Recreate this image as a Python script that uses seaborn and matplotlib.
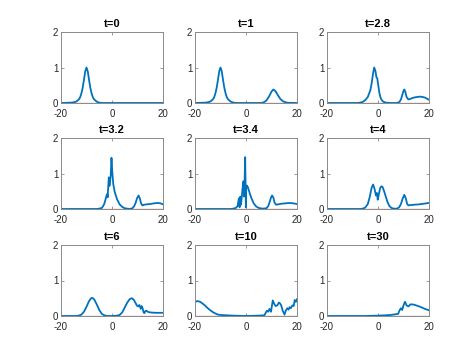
import matplotlib
matplotlib.use("Agg")
import matplotlib.pyplot as plt
import seaborn as sns
import numpy as np

# ---- data ----
titles = ["t=0", "t=1", "t=2.8", "t=3.2", "t=3.4", "t=4", "t=6", "t=10", "t=30"]

x_t0 = [-20, -16, -15, -14, -13, -12.5, -12, -11.5, -11, -10.5, -10, -9.5, -9, -8.5, -8, -7.5, -7, -6, -5, -4, 0, 20]
y_t0 = [0, 0.01, 0.02, 0.04, 0.10, 0.16, 0.27, 0.43, 0.65, 0.89, 1.0, 0.89, 0.65, 0.43, 0.27, 0.16, 0.10, 0.04, 0.01, 0, 0, 0]

x_t1 = [-20, -16, -15, -14, -13, -12.5, -12, -11.5, -11, -10.5, -10, -9.5, -9, -8.5, -8, -7.5, -7, -6, -5, -4, 0,
        6, 7, 8, 9, 10, 10.7, 11.5, 12.5, 13.5, 14.5, 15.5, 16.5, 20]
y_t1 = [0, 0.01, 0.02, 0.04, 0.10, 0.16, 0.27, 0.43, 0.65, 0.89, 1.0, 0.89, 0.65, 0.43, 0.27, 0.16, 0.10, 0.04, 0.01, 0, 0,
        0, 0.02, 0.07, 0.18, 0.32, 0.38, 0.34, 0.22, 0.11, 0.05, 0.02, 0.005, 0]

x_t28 = [-20, -8, -7, -6, -5, -4, -3, -2.5, -2, -1.5, -1.0, -0.6, -0.3, 0, 0.5, 1, 1.5, 2, 3, 5, 7, 8, 8.5, 9, 9.5,
         10, 10.3, 10.7, 11.2, 11.9, 12.5, 13.5, 14.5, 15.5, 16.5, 17.5, 18.5, 19.5, 20]
y_t28 = [0, 0, 0.01, 0.03, 0.08, 0.17, 0.36, 0.55, 0.80, 1.0, 0.9, 0.72, 0.70, 0.55, 0.30, 0.15, 0.08, 0.04, 0.01, 0, 0,
         0.01, 0.04, 0.10, 0.22, 0.34, 0.38, 0.32, 0.17, 0.10, 0.11, 0.14, 0.16, 0.17, 0.18, 0.17, 0.15, 0.11, 0.09]

x_t32 = [-20, -6, -5, -4, -3.5, -3, -2.5, -2.2, -1.9, -1.7, -1.5, -1.25, -1.0, -0.8, -0.5, -0.2, 0.1, 0.5, 1, 1.5, 2,
         3, 4, 5, 6, 7, 8, 8.7, 9.3, 9.8, 10.4, 10.9, 11.4, 11.9, 12.5, 13.5, 15, 16.5, 17.9, 19, 20]
y_t32 = [0, 0, 0.01, 0.03, 0.08, 0.15, 0.28, 0.36, 0.42, 0.33, 0.6, 0.89, 0.65, 0.75, 0.95, 1.44, 1.05, 0.7, 0.5, 0.38,
         0.27, 0.13, 0.06, 0.02, 0.01, 0, 0.02, 0.08, 0.18, 0.3, 0.38, 0.3, 0.16, 0.1, 0.12, 0.13, 0.14, 0.16, 0.17,
         0.16, 0.13]

x_t34 = [-20, -6, -5, -4, -3.3, -2.8, -2.5, -2.2, -2.0, -1.7, -1.4, -1.0, -0.8, -0.6, -0.33, -0.15, -0.05, 0.1, 0.4,
         0.8, 1.3, 2, 3, 4, 5, 6.5, 8, 8.7, 9.3, 9.8, 10.2, 10.7, 11.2, 11.8, 12.5, 14, 15.5, 17, 18.5, 20]
y_t34 = [0, 0, 0.01, 0.03, 0.08, 0.3, 0.05, 0.35, 0.12, 0.3, 0.55, 0.78, 0.35, 0.6, 1.46, 0.6, 0.05, 0.62, 0.66, 0.6,
         0.48, 0.33, 0.16, 0.07, 0.03, 0.01, 0.02, 0.08, 0.2, 0.32, 0.38, 0.33, 0.18, 0.12, 0.13, 0.15, 0.16, 0.17,
         0.16, 0.14]

x_t4 = [-20, -7, -6, -5, -4, -3.2, -2.5, -1.9, -1.3, -0.8, -0.4, -0.1, 0.3, 0.8, 1.3, 1.8, 2.4, 3, 3.7, 4.5, 5.3, 6.2,
        7.5, 8.3, 9, 9.6, 10.3, 10.9, 11.4, 11.9, 12.5, 14, 16, 18, 20]
y_t4 = [0, 0, 0.01, 0.04, 0.14, 0.35, 0.6, 0.69, 0.55, 0.38, 0.45, 0.26, 0.4, 0.58, 0.64, 0.62, 0.5, 0.36, 0.2, 0.08,
        0.03, 0.01, 0.01, 0.05, 0.14, 0.28, 0.4, 0.3, 0.15, 0.1, 0.11, 0.12, 0.13, 0.15, 0.17]

x_t6 = [-20, -14, -13, -12, -11, -10, -9, -8.2, -7.7, -7, -6, -5, -4, -3, -2, 0, 2, 3, 4, 5, 6, 7, 7.8, 8.5, 9.2,
        9.8, 10.3, 10.7, 11.0, 11.3, 11.6, 12.0, 12.4, 12.7, 13.1, 13.5, 14, 15, 17, 20]
y_t6 = [0, 0, 0.01, 0.04, 0.12, 0.26, 0.42, 0.5, 0.51, 0.47, 0.33, 0.17, 0.06, 0.02, 0, 0, 0.01, 0.03, 0.1, 0.24,
        0.38, 0.48, 0.5, 0.46, 0.37, 0.29, 0.27, 0.31, 0.26, 0.2, 0.28, 0.22, 0.1, 0.08, 0.14, 0.15, 0.12, 0.1, 0.09, 0.09]

x_t10 = [-20, -19, -18, -17, -16, -15, -14, -13, -12, -11, -10, -8, -5, 0, 5, 7.2, 7.8, 8.2, 8.7, 9.2, 9.8, 10.5,
         11.0, 11.6, 12.3, 12.9, 13.4, 13.8, 14.4, 15.1, 15.6, 16.2, 16.7, 17.1, 17.6, 18.2, 18.7, 19.1, 19.6, 20]
y_t10 = [0.4, 0.42, 0.4, 0.35, 0.29, 0.22, 0.16, 0.11, 0.07, 0.04, 0.03, 0.02, 0.01, 0, 0.01, 0.02, 0.1, 0.15, 0.12,
         0.2, 0.12, 0.44, 0.35, 0.28, 0.3, 0.38, 0.35, 0.3, 0.15, 0.04, 0.15, 0.22, 0.18, 0.25, 0.22, 0.3, 0.28, 0.45,
         0.4, 0.48]

x_t30 = [-20, -10, -5, 0, 3, 5, 7, 7.9, 8.4, 9.0, 9.5, 10.0, 10.6, 11.2, 11.9, 12.8, 14.1, 15.3, 16.5, 17.5, 18.4,
         19.2, 20]
y_t30 = [0, 0, 0, 0.01, 0.02, 0.03, 0.05, 0.06, 0.15, 0.22, 0.17, 0.3, 0.4, 0.3, 0.27, 0.33, 0.32, 0.29, 0.26, 0.23,
         0.2, 0.18, 0.16]

x_base = [-20, 20]
y_base = [0, 0]

x_ticks = [-20, 0, 20]
y_ticks = [0, 1, 2]

series = [(x_t0, y_t0), (x_t1, y_t1), (x_t28, y_t28), (x_t32, y_t32), (x_t34, y_t34),
          (x_t4, y_t4), (x_t6, y_t6), (x_t10, y_t10), (x_t30, y_t30)]

# ---- styling ----
sns.set_style("white")
plt.rcParams['font.family'] = ['Liberation Sans', 'DejaVu Sans']

W, H = 474, 355
fig = plt.figure(figsize=(W / 100, H / 100), dpi=100)

col_left = [61, 195, 327]
row_top = [32, 138, 245]
aw, ah = 102, 71

blue = "#0072BD"
orange = "#D95319"
spine = "#8a8a8a"
txt = "#262626"

for i, (xs, ys) in enumerate(series):
    r, c = divmod(i, 3)
    left = col_left[c] / W
    bottom = 1 - (row_top[r] + ah) / H
    ax = fig.add_axes([left, bottom, aw / W, ah / H])
    sns.lineplot(x=x_base, y=y_base, ax=ax, color=orange, linewidth=0.9, estimator=None, sort=False)
    sns.lineplot(x=xs, y=ys, ax=ax, color=blue, linewidth=1.3, estimator=None, sort=False)
    ax.set_xlim(-20, 20)
    ax.set_ylim(0, 2)
    ax.set_xticks(x_ticks)
    ax.set_yticks(y_ticks)
    ax.set_xticklabels([str(v) for v in x_ticks])
    ax.set_yticklabels([str(v) for v in y_ticks])
    ax.set_xlabel("")
    ax.set_ylabel("")
    for s in ax.spines.values():
        s.set_visible(True)
        s.set_color(spine)
        s.set_linewidth(0.7)
    ax.tick_params(direction="in", length=2, width=0.6, color=spine, labelcolor=txt,
                   labelsize=7, top=True, right=True, bottom=True, left=True)
    ax.tick_params(axis="x", pad=4.5)
    ax.tick_params(axis="y", pad=2.0)
    ax.set_title(titles[i], fontsize=8, fontweight="bold", color="black", pad=3.5)

fig.savefig("out.png", dpi=100)
